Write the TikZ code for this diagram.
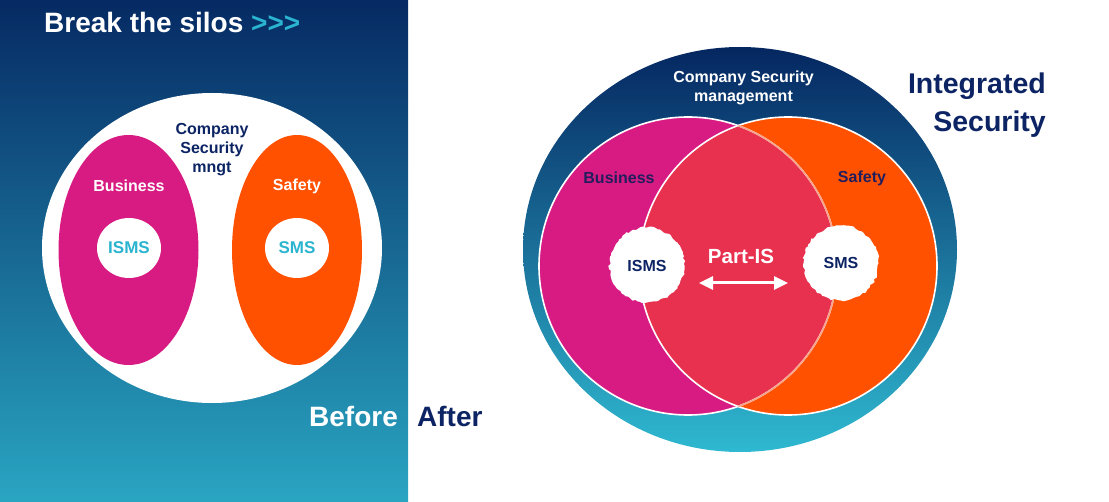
\documentclass[tikz,border=0pt]{standalone}
\usepackage{fontspec}
\setmainfont[Ligatures=NoCommon]{Liberation Sans}
\usetikzlibrary{arrows.meta,decorations.pathmorphing}
\definecolor{navytxt}{HTML}{0D2464}
\definecolor{bizpurple}{HTML}{221E5E}
\definecolor{magen}{HTML}{D81B83}
\definecolor{orng}{HTML}{FF5100}
\definecolor{lensred}{HTML}{E8304F}
\definecolor{tealtxt}{HTML}{2AB4D0}
\definecolor{paneltop}{HTML}{062A63}
\definecolor{panelbot}{HTML}{29A5C2}
\definecolor{ringtop}{HTML}{052660}
\definecolor{ringbot}{HTML}{2FB9D1}
\definecolor{salmon}{HTML}{F6A48C}
\begin{document}
\begin{tikzpicture}[x=1pt,y=-1pt,
  lbl/.style={font=\fontsize{16}{19}\selectfont\bfseries, inner sep=0pt, align=center},
  big/.style={font=\fontsize{28}{34}\selectfont\bfseries, inner sep=0pt},
  ragged/.style={decorate, decoration={random steps, segment length=2.5pt, amplitude=1.1pt}}]
\useasboundingbox (0,0) rectangle (1109,502);
% left panel
\shade[top color=paneltop, bottom color=panelbot] (0,0) rectangle (408,502);
% before diagram
\fill[white] (212,248) circle [x radius=170, y radius=155];
\fill[magen] (128.5,250) circle [x radius=70, y radius=115];
\fill[orng] (297,250) circle [x radius=65, y radius=115];
\fill[white] (129,248) circle [x radius=32, y radius=30];
\fill[white] (297,248) circle [x radius=32, y radius=30];
\node[lbl, text=tealtxt, font=\fontsize{17}{20}\selectfont\bfseries] (isms1) at (129,248) {ISMS};
\node[lbl, text=tealtxt, font=\fontsize{17}{20}\selectfont\bfseries] (sms1) at (297,248) {SMS};
\node[lbl, text=white] (bus1) at (129,186) {Business};
\node[lbl, text=white] (saf1) at (297,186) {Safety};
\node[lbl, text=navytxt] (csm1) at (212,150) {Company\\Security\\mngt};
% title
\node[big, anchor=base west, text=white] (title) at (44,33) {Break the silos \textcolor{tealtxt}{{>}{>}{>}}};
\node[big, anchor=base west, text=white] (before) at (309,427) {Before};
\node[big, anchor=base west, text=navytxt] (after) at (417,427) {After};
% after diagram
\begin{scope}
  \clip (740,249.5) circle [x radius=217, y radius=202.5];
  \shade[top color=ringtop, bottom color=ringbot] (515,45) rectangle (965,454);
\end{scope}
\fill[magen] (688,266) circle [radius=149];
\fill[orng] (788,266) circle [radius=149];
\begin{scope}
  \clip (688,266) circle [radius=149];
  \fill[lensred] (788,266) circle [radius=149];
\end{scope}
\draw[white, line width=1.6pt] (688,266) circle [radius=149];
\draw[white, line width=1.6pt] (788,266) circle [radius=149];
\begin{scope}
  \clip (788,266) circle [radius=149];
  \draw[salmon, line width=1.6pt] (688,266) circle [radius=149];
\end{scope}
\fill[white, ragged] (647,265) circle [radius=37.5];
\fill[white, ragged] (841,263) circle [radius=37.5];
\node[lbl, text=navytxt] (isms2) at (647,266) {ISMS};
\node[lbl, text=navytxt] (sms2) at (841,263) {SMS};
\node[lbl, text=white, font=\fontsize{20.5}{24}\selectfont\bfseries] (partis) at (741,256) {Part-IS};
\coordinate (arrL) at (699,283);
\coordinate (arrR) at (788,283);
\draw[white, line width=3pt, {Triangle[length=14pt,width=13pt]}-{Triangle[length=14pt,width=13pt]}] (arrL) -- (arrR);
\node[lbl, text=bizpurple] (bus2) at (619,178) {Business};
\node[lbl, text=bizpurple] (saf2) at (862,178) {Safety};
\node[lbl, text=white] (csm2) at (743.5,88) {Company Security\\management};
\node[font=\fontsize{28.5}{38}\selectfont\bfseries, inner sep=0pt, align=right, text=navytxt, anchor=east] (integ) at (1046,105) {Integrated\\Security};
\end{tikzpicture}
\end{document}
